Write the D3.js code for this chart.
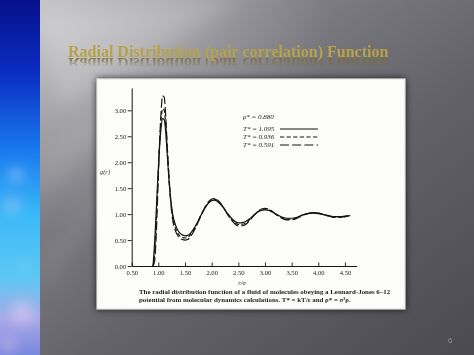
<!DOCTYPE html>
<html><head><meta charset="utf-8">
<script src="https://cdn.jsdelivr.net/npm/d3@7"></script>
<style>html,body{margin:0;padding:0;background:#555;}svg{display:block;}</style>
</head><body>
<script>
// ---- data ----
const rValues = [0.90,0.93,0.96,0.99,1.02,1.05,1.08,1.11,1.14,1.17,1.20,1.23,1.26,1.30,1.35,1.40,1.45,1.50,1.55,1.60,1.70,1.80,1.90,2.00,2.05,2.10,2.20,2.30,2.40,2.50,2.60,2.70,2.80,2.90,3.00,3.10,3.20,3.30,3.40,3.50,3.60,3.70,3.80,3.90,4.00,4.10,4.20,4.30,4.40,4.50,4.60];
const gT1095 = [0.00,0.45,1.05,1.70,2.25,2.65,2.84,2.82,2.55,2.10,1.65,1.30,1.05,0.86,0.72,0.64,0.60,0.58,0.59,0.63,0.78,0.98,1.16,1.26,1.27,1.25,1.15,1.01,0.89,0.83,0.84,0.90,0.99,1.06,1.08,1.06,1.00,0.95,0.92,0.92,0.94,0.98,1.01,1.02,1.01,0.99,0.97,0.95,0.95,0.96,0.97];
const gT0936 = [0.00,0.25,0.85,1.60,2.30,2.80,3.03,3.00,2.70,2.20,1.70,1.30,1.02,0.80,0.66,0.58,0.55,0.54,0.55,0.60,0.76,0.98,1.17,1.28,1.29,1.27,1.16,1.00,0.87,0.80,0.81,0.88,0.99,1.07,1.10,1.07,1.00,0.94,0.90,0.90,0.93,0.98,1.01,1.03,1.02,0.99,0.96,0.94,0.94,0.95,0.97];
const gT0591 = [0.00,0.10,0.60,1.45,2.30,2.95,3.28,3.25,2.85,2.25,1.70,1.25,0.95,0.74,0.61,0.54,0.51,0.50,0.51,0.56,0.74,0.97,1.18,1.29,1.30,1.28,1.16,0.99,0.85,0.77,0.78,0.86,0.98,1.08,1.11,1.08,1.00,0.93,0.89,0.89,0.92,0.97,1.01,1.03,1.02,0.99,0.96,0.94,0.94,0.95,0.97];
const seriesNames = ["T* = 1.095","T* = 0.936","T* = 0.591"];
const densityLabel = "ρ* = 0.880";
const xTicks = [0.5,1.0,1.5,2.0,2.5,3.0,3.5,4.0,4.5];
const yTicks = [0,0.5,1.0,1.5,2.0,2.5,3.0];
const titleText = "Radial Distribution (pair correlation) Function";
const captionLines = ["The radial distribution function of a fluid of molecules obeying a Lennard-Jones 6–12",
                      "potential from molecular dynamics calculations. T* = kT/ε and ρ* = σ³ρ."];

const W = 474, H = 355;
const svg = d3.select("body").append("svg").attr("width", W).attr("height", H);
const defs = svg.append("defs");

// background gradients
const bg = defs.append("linearGradient").attr("id","bg").attr("x1",0).attr("y1",0).attr("x2",1).attr("y2",1);
[[0,"#aaaab0"],[0.3,"#808086"],[0.6,"#626268"],[1,"#4a4a50"]].forEach(s=>bg.append("stop").attr("offset",s[0]).attr("stop-color",s[1]));
const hl = defs.append("radialGradient").attr("id","hl").attr("cx",0.1).attr("cy",0.05).attr("r",0.6);
hl.append("stop").attr("offset",0).attr("stop-color","#fff").attr("stop-opacity",0.4);
hl.append("stop").attr("offset",1).attr("stop-color","#fff").attr("stop-opacity",0);
const blue = defs.append("linearGradient").attr("id","blue").attr("x1",0).attr("y1",0).attr("x2",0).attr("y2",1);
[[0,"#06108a"],[0.2,"#0a2cc0"],[0.42,"#1a78ee"],[0.6,"#3ab8f8"],[0.78,"#5cc8f4"],[0.9,"#a8a8e8"],[1,"#7888dc"]].forEach(s=>blue.append("stop").attr("offset",s[0]).attr("stop-color",s[1]));
const blur = defs.append("filter").attr("id","blur").attr("x","-50%").attr("y","-50%").attr("width","200%").attr("height","200%");
blur.append("feGaussianBlur").attr("stdDeviation",6);
const blur2 = defs.append("filter").attr("id","blur2").attr("x","-50%").attr("y","-50%").attr("width","200%").attr("height","200%");
blur2.append("feGaussianBlur").attr("stdDeviation",10);
const shadow = defs.append("filter").attr("id","shadow").attr("x","-20%").attr("y","-20%").attr("width","140%").attr("height","140%");
shadow.append("feDropShadow").attr("dx",0).attr("dy",0).attr("stdDeviation",3.5).attr("flood-color","#000").attr("flood-opacity",0.75);
const fade = defs.append("linearGradient").attr("id","fade").attr("x1",0).attr("y1",0).attr("x2",0).attr("y2",1);
fade.append("stop").attr("offset",0).attr("stop-color","#fff").attr("stop-opacity",0.85);
fade.append("stop").attr("offset",1).attr("stop-color","#fff").attr("stop-opacity",0);
defs.append("mask").attr("id","refl").attr("maskUnits","userSpaceOnUse").attr("x",0).attr("y",0).attr("width",W).attr("height",H)
  .append("rect").attr("x",0).attr("y",58).attr("width",W).attr("height",9).attr("fill","url(#fade)");

svg.append("rect").attr("width",W).attr("height",H).attr("fill","url(#bg)");
svg.append("rect").attr("width",W).attr("height",H).attr("fill","url(#hl)");
// diagonal streaks
const streaks = svg.append("g").attr("filter","url(#blur2)").attr("fill","#fff");
streaks.append("polygon").attr("points","40,20 160,0 240,0 60,110").attr("opacity",0.18);
streaks.append("polygon").attr("points","40,150 140,80 170,80 40,200").attr("opacity",0.10);
streaks.append("polygon").attr("points","40,260 90,200 110,200 40,300").attr("opacity",0.08);

// blue stripe
svg.append("rect").attr("x",0).attr("y",0).attr("width",40).attr("height",H).attr("fill","url(#blue)");
const bok = svg.append("g").attr("filter","url(#blur)");
[[16,175,8,"#e8f4ff",0.3],[12,205,9,"#f0d8f0",0.3],[24,265,5,"#e0f0ff",0.25],[22,312,12,"#f4d8f4",0.4],[8,345,9,"#e8c8f0",0.35]].forEach(b=>
  bok.append("circle").attr("cx",b[0]).attr("cy",b[1]).attr("r",b[2]).attr("fill",b[3]).attr("opacity",b[4]));

// title + reflection
const reflG = svg.append("g").attr("mask","url(#refl)");
reflG.append("text").attr("x",68).attr("y",-58).attr("transform","scale(1,-1)")
  .attr("font-family","Liberation Serif, Times New Roman, serif").attr("font-weight","bold").attr("font-size",16)
  .attr("fill","#7a6c38").text(titleText);
svg.append("text").attr("x",68).attr("y",57).attr("font-family","Liberation Serif, Times New Roman, serif")
  .attr("font-weight","bold").attr("font-size",16).attr("fill","#b8a248").text(titleText);

// card
svg.append("rect").attr("x",97).attr("y",79).attr("width",308).attr("height",230)
  .attr("fill","#fcfcfa").attr("stroke","#ddd").attr("stroke-width",1).attr("filter","url(#shadow)");

// page number
svg.append("text").attr("x",448).attr("y",343).attr("font-family","Liberation Sans, sans-serif")
  .attr("font-size",8).attr("fill","#8e8e9c").text("6");

// chart
const x = d3.scaleLinear().domain([0.5,4.72]).range([131.7,356.7]);
const y = d3.scaleLinear().domain([0,3.43]).range([266,88]);
const font = "Liberation Serif, Times New Roman, serif";
const ink = "#151515";

const xAxis = svg.append("g").attr("transform","translate(0,266)")
  .call(d3.axisBottom(x).tickValues(xTicks).tickSizeInner(-3.5).tickSizeOuter(0).tickPadding(4).tickFormat(d3.format(".2f")));
const yAxis = svg.append("g").attr("transform","translate(131.7,0)")
  .call(d3.axisLeft(y).tickValues(yTicks).tickSizeInner(4).tickSizeOuter(0).tickPadding(1.5).tickFormat(d3.format(".2f")));
[xAxis,yAxis].forEach(a=>{
  a.select(".domain").attr("stroke",ink).attr("stroke-width",1);
  a.selectAll(".tick line").attr("stroke",ink).attr("stroke-width",0.9);
  a.selectAll(".tick text").attr("font-family",font).attr("font-size",6.6).attr("fill","#1a1a1a");
});

svg.append("text").attr("x",242).attr("y",285).attr("text-anchor","middle").attr("font-family",font)
  .attr("font-style","italic").attr("font-size",6.5).attr("fill","#333").text("r/σ");
svg.append("text").attr("x",105).attr("y",174).attr("text-anchor","middle").attr("font-family",font)
  .attr("font-style","italic").attr("font-size",6.5).attr("fill","#333").text("g(r)");

const series = [gT1095,gT0936,gT0591];
const dashes = [null,"4.2,2.4","9,3.2"];
const line = d3.line().x(d=>x(d[0])).y(d=>y(d[1])).curve(d3.curveMonotoneX);
series.forEach((s,i)=>{
  svg.append("path").datum(rValues.map((r,j)=>[r,s[j]])).attr("d",line)
    .attr("fill","none").attr("stroke",ink).attr("stroke-width",1.2)
    .attr("stroke-dasharray",dashes[i]);
});

// legend
svg.append("text").attr("x",243).attr("y",119).attr("font-family",font).attr("font-style","italic")
  .attr("font-size",7).attr("fill","#1a1a1a").text(densityLabel);
const legY = [129,137,145];
seriesNames.forEach((n,i)=>{
  svg.append("text").attr("x",243).attr("y",legY[i]+2.2).attr("font-family",font).attr("font-style","italic")
    .attr("font-size",7).attr("fill","#1a1a1a").text(n);
  svg.append("line").attr("x1",280).attr("x2",318).attr("y1",legY[i]).attr("y2",legY[i])
    .attr("stroke",ink).attr("stroke-width",1.2).attr("stroke-dasharray",dashes[i]);
});

// caption
captionLines.forEach((t,i)=>{
  svg.append("text").attr("x",139).attr("y",294+i*8).attr("font-family",font).attr("font-weight","bold")
    .attr("font-size",6.9).attr("fill","#1e1e1e").text(t);
});
</script>
</body></html>
